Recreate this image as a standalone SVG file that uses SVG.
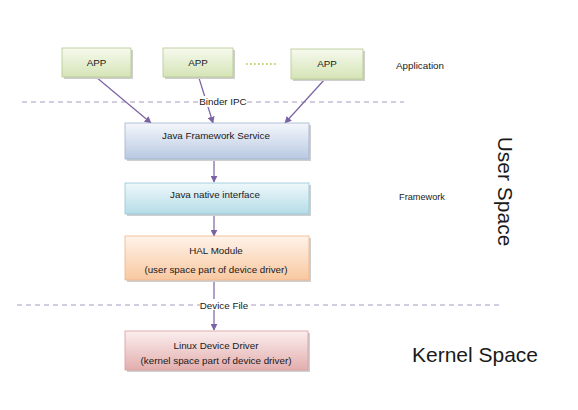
<svg xmlns="http://www.w3.org/2000/svg" width="578" height="410" viewBox="0 0 578 410">
<defs>
<linearGradient id="gApp" x1="0" y1="0" x2="0" y2="1"><stop offset="0" stop-color="#f6faee"/><stop offset="1" stop-color="#d5e4b6"/></linearGradient>
<linearGradient id="gJfs" x1="0" y1="0" x2="0" y2="1"><stop offset="0" stop-color="#f4f7fb"/><stop offset="1" stop-color="#b9c9e2"/></linearGradient>
<linearGradient id="gJni" x1="0" y1="0" x2="0" y2="1"><stop offset="0" stop-color="#eef8fb"/><stop offset="1" stop-color="#b5dce7"/></linearGradient>
<linearGradient id="gHal" x1="0" y1="0" x2="0" y2="1"><stop offset="0" stop-color="#fef3ea"/><stop offset="1" stop-color="#f8c8a0"/></linearGradient>
<linearGradient id="gLdd" x1="0" y1="0" x2="0" y2="1"><stop offset="0" stop-color="#fbeeee"/><stop offset="1" stop-color="#e3aeae"/></linearGradient>
<marker id="arr" viewBox="0 0 10 10" refX="9" refY="5" markerWidth="7" markerHeight="7" orient="auto" markerUnits="userSpaceOnUse"><path d="M0,0 L10,5 L0,10 z" fill="#7b62a3"/></marker>
</defs>
<style>
.t{font-family:"Liberation Sans",Arial,sans-serif;font-size:9.8px;fill:#1a1a1a;text-anchor:middle}
.shadow{fill:#cfcfcf}
.conn{stroke:#7b62a3;stroke-width:1.2;fill:none;marker-end:url(#arr)}
.dash{stroke:#a99bc6;stroke-width:1.2;stroke-dasharray:5,4;fill:none}
.app{fill:url(#gApp);stroke:#b3c98d;stroke-width:0.8}
.side{font-family:"Liberation Sans",Arial,sans-serif;fill:#1a1a1a;text-anchor:middle}
</style>
<rect width="578" height="410" fill="#ffffff"/>

<g id="layers">
<line class="dash" x1="22" y1="102" x2="404" y2="102"/>
<line class="dash" x1="17" y1="305" x2="500" y2="305"/>
</g>

<g id="connectors">
<line class="conn" x1="96" y1="77" x2="151" y2="123"/>
<line class="conn" x1="199" y1="78" x2="213" y2="123"/>
<line class="conn" x1="325" y1="79" x2="285" y2="123"/>
<line class="conn" x1="214" y1="159" x2="214" y2="182"/>
<line class="conn" x1="214" y1="214" x2="214" y2="236"/>
<line class="conn" x1="214" y1="280" x2="214" y2="330"/>
</g>

<g id="labels-edge">
<rect x="202" y="96" width="42" height="11" fill="#fff"/>
<text class="t" x="223" y="105">Binder IPC</text>
<rect x="200" y="299" width="48" height="11" fill="#fff"/>
<text class="t" x="224" y="308.5">Device File</text>
</g>

<g id="app1">
<rect class="shadow" x="64" y="50" width="69" height="29"/>
<rect class="app" x="62" y="48" width="69" height="29"/>
<text class="t" x="96.5" y="65.5">APP</text>
</g>
<g id="app2">
<rect class="shadow" x="165" y="50" width="70" height="29"/>
<rect class="app" x="163" y="48" width="70" height="29"/>
<text class="t" x="198" y="65.5">APP</text>
</g>
<line id="dots" x1="246" y1="64" x2="278" y2="64" stroke="#b0c050" stroke-width="1.6" stroke-dasharray="1.6,2.4"/>
<g id="app3">
<rect class="shadow" x="293" y="51" width="72" height="30"/>
<rect class="app" x="291" y="49" width="72" height="30"/>
<text class="t" x="327" y="66.5">APP</text>
</g>

<g id="jfs">
<rect class="shadow" x="127" y="125" width="184" height="36"/>
<rect x="125" y="123" width="184" height="36" fill="url(#gJfs)" stroke="#9fb2d0" stroke-width="0.8"/>
<text class="t" x="216" y="139">Java Framework Service</text>
</g>

<g id="jni">
<rect class="shadow" x="127" y="185" width="184" height="31"/>
<rect x="125" y="183" width="184" height="31" fill="url(#gJni)" stroke="#94c6d6" stroke-width="0.8"/>
<text class="t" x="215" y="198">Java native interface</text>
</g>

<g id="hal">
<rect class="shadow" x="127" y="238" width="184" height="44"/>
<rect x="125" y="236" width="184" height="44" fill="url(#gHal)" stroke="#efb58a" stroke-width="0.8"/>
<text class="t" x="216" y="254">HAL Module</text>
<text class="t" x="216" y="273">(user space part of device driver)</text>
</g>

<g id="ldd">
<rect class="shadow" x="127" y="333" width="183" height="39"/>
<rect x="125" y="331" width="183" height="39" fill="url(#gLdd)" stroke="#d99b9b" stroke-width="0.8"/>
<text class="t" x="216" y="349">Linux Device Driver</text>
<text class="t" x="216" y="364">(kernel space part of device driver)</text>
</g>

<g id="side-labels">
<text class="side" x="420" y="69" font-size="9.8">Application</text>
<text class="side" x="422" y="200" font-size="9.2">Framework</text>
<text class="side" transform="translate(498,191.5) rotate(90)" font-size="21">User Space</text>
<text class="side" x="475" y="362" font-size="21">Kernel Space</text>
</g>
</svg>
